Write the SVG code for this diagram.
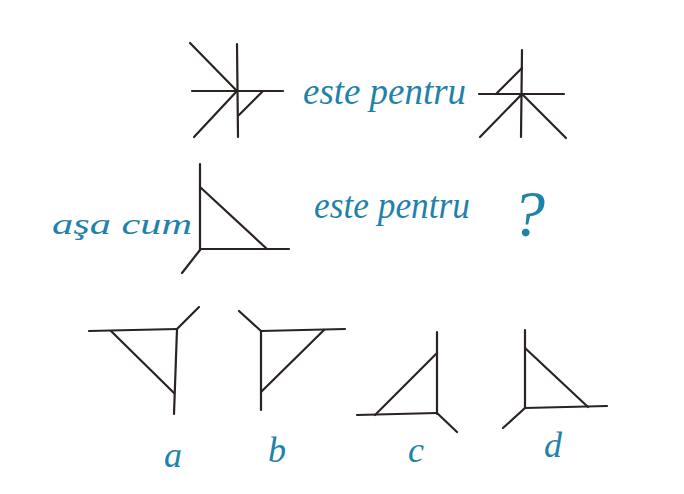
<svg xmlns="http://www.w3.org/2000/svg" width="684" height="494" viewBox="0 0 684 494">
<style>
.fig line{stroke:#2b2222;stroke-width:2.2;stroke-linecap:round;fill:none}
.hw{font-family:"Liberation Serif","DejaVu Serif",serif;font-style:italic;fill:#1f82aa}
</style>
<rect width="684" height="494" fill="#ffffff"/>
<g id="fig-star1" class="fig">
<line x1="237" y1="44" x2="238" y2="137"/>
<line x1="192" y1="91" x2="283" y2="91"/>
<line x1="190" y1="43" x2="237" y2="91"/>
<line x1="237" y1="91" x2="194" y2="137"/>
<line x1="263" y1="91" x2="239" y2="115"/>
</g>
<g id="fig-star2" class="fig">
<line x1="522" y1="50" x2="521" y2="137"/>
<line x1="479" y1="94" x2="564" y2="94"/>
<line x1="522" y1="94" x2="480" y2="137"/>
<line x1="522" y1="94" x2="566" y2="138"/>
<line x1="496" y1="94" x2="522" y2="68"/>
</g>
<g id="fig-triangle" class="fig">
<line x1="200" y1="164" x2="200" y2="250"/>
<line x1="200" y1="249" x2="289" y2="249"/>
<line x1="200" y1="187" x2="267" y2="249"/>
<line x1="200" y1="250" x2="182" y2="273"/>
</g>
<g id="option-a" class="fig">
<line x1="89" y1="331" x2="177" y2="329"/>
<line x1="177" y1="329" x2="174" y2="414"/>
<line x1="111" y1="331" x2="174" y2="393"/>
<line x1="177" y1="329" x2="199" y2="307"/>
</g>
<g id="option-b" class="fig">
<line x1="261" y1="331" x2="345" y2="329"/>
<line x1="261" y1="331" x2="261" y2="410"/>
<line x1="324" y1="330" x2="261" y2="392"/>
<line x1="261" y1="331" x2="239" y2="311"/>
</g>
<g id="option-c" class="fig">
<line x1="437" y1="332" x2="437" y2="414"/>
<line x1="357" y1="415" x2="437" y2="413"/>
<line x1="375" y1="415" x2="437" y2="353"/>
<line x1="437" y1="413" x2="457" y2="432"/>
</g>
<g id="option-d" class="fig">
<line x1="525" y1="330" x2="525" y2="408"/>
<line x1="525" y1="408" x2="607" y2="406"/>
<line x1="525" y1="348" x2="588" y2="407"/>
<line x1="525" y1="408" x2="503" y2="428"/>
</g>
<g id="connectors"></g>
<g id="labels">
<text class="hw" x="303" y="104" font-size="38" textLength="163" lengthAdjust="spacingAndGlyphs">este pentru</text>
<text class="hw" x="314" y="218" font-size="38" textLength="156" lengthAdjust="spacingAndGlyphs">este pentru</text>
<text class="hw" x="512" y="236" font-size="66">?</text>
<text class="hw" x="52" y="234" font-size="30" textLength="140" lengthAdjust="spacingAndGlyphs">aşa cum</text>
<text class="hw" x="164" y="467" font-size="36">a</text>
<text class="hw" x="268" y="462" font-size="36">b</text>
<text class="hw" x="408" y="462" font-size="36">c</text>
<text class="hw" x="544" y="457" font-size="36">d</text>
</g>
</svg>
